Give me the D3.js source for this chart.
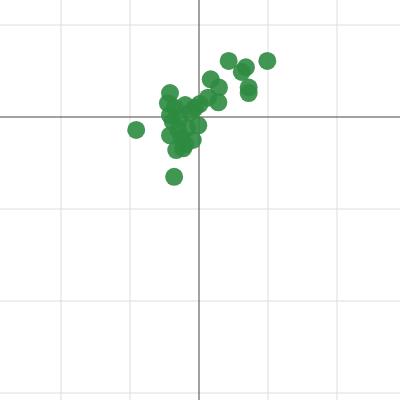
<!DOCTYPE html>
<html><head><meta charset="utf-8">
<script src="https://cdn.jsdelivr.net/npm/d3@7"></script>
<style>body{margin:0;background:#fff}</style>
</head><body>
<svg id="chart" width="400" height="400"></svg>
<script>
var xVals = [0.43,0.68,0.62,0.99,0.17,0.29,0.72,0.72,0.28,0.13,-0.42,-0.45,-0.20,-0.35,0.01,-0.06,-0.42,-0.28,-0.38,-0.01,-0.17,-0.42,-0.25,-0.09,-0.20,-0.33,-0.23,-0.91,-0.36,-0.13,-0.30];
var yVals = [0.61,0.54,0.49,0.61,0.41,0.32,0.32,0.26,0.16,0.21,0.26,0.15,0.13,0.10,0.14,0.10,0.02,-0.01,-0.05,-0.09,-0.12,-0.20,-0.23,-0.25,-0.30,-0.36,-0.34,-0.14,-0.65,0.05,-0.14];
var gridTicks = [-3,-2,-1,1,2,3];

var svg = d3.select("#chart");
var x = d3.scaleLinear().domain([-199/69, 201/69]).range([0, 400]);
var y = d3.scaleLinear().domain([117/92, -283/92]).range([0, 400]);

svg.selectAll("line.gx").data(gridTicks).enter().append("line")
    .attr("x1", d => x(d)).attr("x2", d => x(d))
    .attr("y1", 0).attr("y2", 400)
    .attr("stroke", "#ddd").attr("stroke-width", 1);
svg.selectAll("line.gy").data(gridTicks).enter().append("line")
    .attr("y1", d => y(d)).attr("y2", d => y(d))
    .attr("x1", 0).attr("x2", 400)
    .attr("stroke", "#ddd").attr("stroke-width", 1);

// zero lines
svg.append("line").attr("x1", x(0)).attr("x2", x(0)).attr("y1", 0).attr("y2", 400)
    .attr("stroke", "#444").attr("stroke-width", 1);
svg.append("line").attr("y1", y(0)).attr("y2", y(0)).attr("x1", 0).attr("x2", 400)
    .attr("stroke", "#444").attr("stroke-width", 1);

svg.selectAll("circle").data(xVals).enter().append("circle")
    .attr("cx", d => x(d))
    .attr("cy", (d, i) => y(yVals[i]))
    .attr("r", 9)
    .attr("fill", "#2e8b40")
    .attr("fill-opacity", 0.9);
</script>
</body></html>
